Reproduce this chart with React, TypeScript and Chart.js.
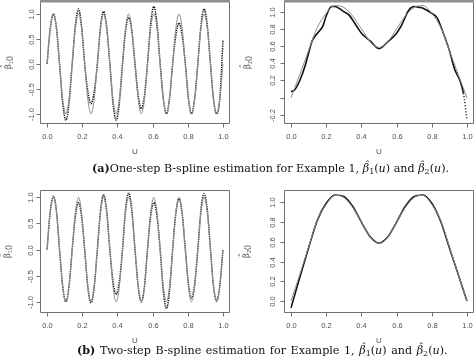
import React, { useEffect, useRef } from "react";
import { Chart, registerables } from "chart.js";

Chart.register(...registerables);

// ---------- data ----------
const U_B1 = [0, 0.018, 0.036, 0.054, 0.071, 0.089, 0.107, 0.125, 0.143, 0.161, 0.179, 0.196, 0.214, 0.232, 0.25, 0.268, 0.286, 0.304, 0.321, 0.339, 0.357, 0.375, 0.393, 0.411, 0.429, 0.446, 0.464, 0.482, 0.5, 0.518, 0.536, 0.554, 0.571, 0.589, 0.607, 0.625, 0.643, 0.661, 0.679, 0.696, 0.714, 0.732, 0.75, 0.768, 0.786, 0.804, 0.821, 0.839, 0.857, 0.875, 0.893, 0.911, 0.929, 0.946, 0.964, 0.982, 1];

const TRUE_B1 = [
  0, 0.71, 1, 0.71, 0, -0.71, -1, -0.71,
  0, 0.71, 1, 0.71, 0, -0.71, -1, -0.71,
  0, 0.71, 1, 0.71, 0, -0.71, -1, -0.71,
  0, 0.71, 1, 0.71, 0, -0.71, -1, -0.71,
  0, 0.71, 1, 0.71, 0, -0.71, -1, -0.71,
  0, 0.71, 1, 0.71, 0, -0.71, -1, -0.71,
  0, 0.71, 1, 0.71, 0, -0.71, -1, -0.71,
  0,
];

const EST_B1_ONE = [
  0, 0.7, 1.0, 0.7, 0, -0.79, -1.13, -0.79,
  0, 0.77, 1.1, 0.77, 0, -0.56, -0.8, -0.56,
  0, 0.74, 1.05, 0.74, 0, -0.79, -1.13, -0.79,
  0, 0.65, 0.93, 0.65, 0, -0.63, -0.9, -0.63,
  0, 0.8, 1.15, 0.8, 0, -0.7, -1.0, -0.7,
  0, 0.57, 0.82, 0.57, 0, -0.7, -1.0, -0.7,
  0, 0.77, 1.1, 0.77, 0, -0.7, -1.0, -0.7,
  0.48,
];

const EST_B1_TWO = [
  0, 0.72, 1.02, 0.72, 0, -0.7, -1.0, -0.7,
  0, 0.64, 0.9, 0.64, 0, -0.72, -1.02, -0.72,
  0, 0.74, 1.05, 0.74, 0, -0.61, -0.86, -0.61,
  0, 0.76, 1.08, 0.76, 0, -0.7, -1.0, -0.7,
  0, 0.64, 0.9, 0.64, 0, -0.8, -1.13, -0.8,
  0, 0.69, 0.97, 0.69, 0, -0.66, -0.93, -0.66,
  0, 0.76, 1.07, 0.76, 0, -0.69, -0.98, -0.69,
  0,
];

const U_B2 = [0, 0.05, 0.1, 0.15, 0.2, 0.25, 0.3, 0.35, 0.4, 0.45, 0.5, 0.55, 0.6, 0.65, 0.7, 0.75, 0.8, 0.85, 0.9, 0.95, 1];
const TRUE_B2 = [0, 0.27, 0.55, 0.82, 0.98, 1.07, 1.05, 0.95, 0.8, 0.65, 0.585, 0.65, 0.8, 0.95, 1.05, 1.07, 0.98, 0.82, 0.55, 0.27, 0];
const EST_B2_TWO = [-0.07, 0.24, 0.54, 0.82, 0.99, 1.075, 1.06, 0.96, 0.8, 0.65, 0.585, 0.65, 0.8, 0.96, 1.06, 1.075, 0.99, 0.81, 0.54, 0.27, 0.0];

const U_B2_ONE = [0, 0.02, 0.05, 0.08, 0.1, 0.12, 0.15, 0.18, 0.2, 0.23, 0.25, 0.28, 0.3, 0.33, 0.37, 0.4, 0.45, 0.5, 0.55, 0.6, 0.63, 0.67, 0.7, 0.73, 0.75, 0.8, 0.83, 0.86, 0.9, 0.93, 0.96, 0.98, 1.0];
const EST_B2_ONE = [0.07, 0.09, 0.2, 0.37, 0.52, 0.66, 0.75, 0.83, 0.95, 1.06, 1.06, 1.03, 1.0, 0.96, 0.84, 0.75, 0.66, 0.57, 0.65, 0.75, 0.85, 1.02, 1.06, 1.05, 1.04, 0.98, 0.93, 0.78, 0.55, 0.33, 0.2, 0.05, -0.26];

const X_TICKS = [0, 0.2, 0.4, 0.6, 0.8, 1];
const X_TICK_LABELS = ["0.0", "0.2", "0.4", "0.6", "0.8", "1.0"];
const Y_TICKS_B1 = [-1, -0.5, 0, 0.5, 1];
const Y_TICK_LABELS_B1 = ["-1.0", "-0.5", "0.0", "0.5", "1.0"];
const Y_TICKS_B2_ONE = [-0.2, 0, 0.2, 0.4, 0.6, 0.8, 1];
const Y_TICK_LABELS_B2_ONE = ["-0.2", "", "0.2", "0.4", "0.6", "0.8", "1.0"];
const Y_TICKS_B2_TWO = [0, 0.2, 0.4, 0.6, 0.8, 1];
const Y_TICK_LABELS_B2_TWO = ["0.0", "0.2", "0.4", "0.6", "0.8", "1.0"];

const X_TITLE = "U";
const CAPTION_A_LABEL = "(a)";
const CAPTION_A_REST = "One-step B-spline estimation for Example 1, ";
const CAPTION_B_LABEL = "(b)";
const CAPTION_B_REST = " Two-step B-spline estimation for Example 1, ";

// ---------- helpers ----------
const W = 474;
const H = 364;

const pts = (xs: number[], ys: number[]) => xs.map((x, i) => ({ x, y: ys[i] }));

const rAxes = {
  id: "rAxes",
  afterDraw(chart: any, _args: any, o: any) {
    const { ctx, chartArea: a, scales } = chart;
    const xs = scales.x;
    const ys = scales.y;
    ctx.save();
    ctx.strokeStyle = "#707070";
    ctx.lineWidth = 1;
    const L = Math.round(a.left) + 0.5;
    const T = Math.round(a.top) + 0.5;
    const R = Math.round(a.right) - 0.5;
    const B = Math.round(a.bottom) - 0.5;
    ctx.beginPath();
    ctx.rect(L, T, R - L, B - T);
    ctx.stroke();
    if (o.thickTop) {
      ctx.fillStyle = "#8f8f8f";
      ctx.fillRect(L - 0.5, 0, R - L + 1, 2.5);
    }
    ctx.fillStyle = "#505050";
    ctx.strokeStyle = "#707070";
    ctx.font = '7.5px "Liberation Sans", Arial, sans-serif';
    ctx.textAlign = "center";
    ctx.textBaseline = "middle";
    o.xTicks.forEach((v: number, i: number) => {
      const px = Math.round(xs.getPixelForValue(v)) + 0.5;
      ctx.beginPath();
      ctx.moveTo(px, B);
      ctx.lineTo(px, B + 4);
      ctx.stroke();
      ctx.fillText(o.xLabels[i], px, B + 13);
    });
    o.yTicks.forEach((v: number, i: number) => {
      const py = Math.round(ys.getPixelForValue(v)) + 0.5;
      ctx.beginPath();
      ctx.moveTo(L - 4, py);
      ctx.lineTo(L, py);
      ctx.stroke();
      const lab = o.yLabels[i];
      if (lab) {
        ctx.save();
        ctx.translate(L - o.yLabelGap, py);
        ctx.rotate(-Math.PI / 2);
        ctx.fillText(lab, 0, 0);
        ctx.restore();
      }
    });
    ctx.font = '8px "Liberation Sans", Arial, sans-serif';
    ctx.fillText(o.xTitle, (L + R) / 2, B + 28);
    // y title (rotated): beta-hat, subscript, "()"
    ctx.save();
    ctx.translate(L - o.yTitleGap, (T + B) / 2);
    ctx.rotate(-Math.PI / 2);
    ctx.textAlign = "left";
    const f1 = '8.5px "DejaVu Serif", serif';
    const f2 = '5.5px "Liberation Sans", Arial, sans-serif';
    const f3 = '7.5px "Liberation Sans", Arial, sans-serif';
    ctx.font = f1;
    const w1 = ctx.measureText("\u03B2").width;
    ctx.font = f2;
    const w2 = ctx.measureText(o.ySub).width;
    ctx.font = f3;
    const w3 = ctx.measureText("()").width;
    let x0 = -(w1 + w2 + w3) / 2;
    ctx.font = f1;
    ctx.fillText("\u03B2", x0, 0.5);
    ctx.font = '6px "Liberation Sans", Arial, sans-serif';
    ctx.textAlign = "center";
    ctx.fillText("^", x0 + w1 / 2 + 0.5, -6);
    ctx.textAlign = "left";
    x0 += w1;
    ctx.font = f2;
    ctx.fillText(o.ySub, x0, 2.5);
    x0 += w2;
    ctx.font = f3;
    ctx.fillText("()", x0, 0.5);
    ctx.restore();
    ctx.restore();
  },
};

type PanelProps = {
  area: { left: number; top: number; right: number; bottom: number };
  yMin: number;
  yMax: number;
  datasets: any[];
  axes: any;
};

function Panel({ area, yMin, yMax, datasets, axes }: PanelProps) {
  const ref = useRef<HTMLCanvasElement | null>(null);
  useEffect(() => {
    if (!ref.current) return;
    const chart = new Chart(ref.current, {
      type: "line",
      data: { datasets },
      options: {
        responsive: false,
        animation: false,
        events: [],
        layout: {
          padding: {
            left: area.left,
            top: area.top,
            right: W - area.right,
            bottom: H - area.bottom,
          },
        },
        scales: {
          x: { type: "linear", min: -0.04, max: 1.04, display: false },
          y: { type: "linear", min: yMin, max: yMax, display: false },
        },
        plugins: {
          legend: { display: false },
          tooltip: { enabled: false },
          rAxes: axes,
        } as any,
        elements: { point: { radius: 0 } },
      },
      plugins: [rAxes],
    });
    return () => chart.destroy();
  }, []);
  return (
    <canvas
      ref={ref}
      width={W}
      height={H}
      style={{ position: "absolute", left: 0, top: 0, width: W, height: H }}
    />
  );
}

const trueStyle = {
  borderColor: "#8c8c8c",
  borderWidth: 1,
  cubicInterpolationMode: "monotone",
  pointRadius: 0,
  fill: false,
};
const dotStyle = {
  borderColor: "#151515",
  borderWidth: 1.5,
  borderDash: [1.3, 1],
  cubicInterpolationMode: "monotone",
  pointRadius: 0,
  fill: false,
};

function BetaHat({ sub }: { sub: string }) {
  return (
    <>
      <span style={{ position: "relative", display: "inline-block" }}>
        <i>β</i>
        <span style={{ position: "absolute", left: "0.22em", top: "-0.38em", fontSize: "0.9em" }}>ˆ</span>
      </span>
      <sub style={{ fontSize: 8, verticalAlign: "-2px" }}>{sub}</sub>
    </>
  );
}

function Caption({ label, rest, left, top, wordSpacing }: { label: string; rest: string; left: number; top: number; wordSpacing: number }) {
  return (
    <div
      style={{
        position: "absolute",
        left,
        top,
        whiteSpace: "nowrap",
        fontFamily: '"DejaVu Serif", "Liberation Serif", serif',
        fontSize: 11.15,
        color: "#111",
        lineHeight: "14px",
        wordSpacing,
      }}
    >
      <b>{label}</b>
      {rest}
      <BetaHat sub="1" />(<i>u</i>) and <BetaHat sub="2" />(<i>u</i>).
    </div>
  );
}

export default function App() {
  const lastIdx = U_B2_ONE.length - 1;
  return (
    <div style={{ position: "fixed", left: 0, top: 0, width: W, height: H, background: "#fff", overflow: "hidden" }}>
      <Panel
        area={{ left: 40, top: 1, right: 230, bottom: 124 }}
        yMin={-1.207}
        yMax={1.261}
        datasets={[
          { ...trueStyle, data: pts(U_B1, TRUE_B1) },
          { ...dotStyle, data: pts(U_B1, EST_B1_ONE) },
        ]}
        axes={{ thickTop: true, xTicks: X_TICKS, xLabels: X_TICK_LABELS, yTicks: Y_TICKS_B1, yLabels: Y_TICK_LABELS_B1, yLabelGap: 9, yTitleGap: 32, ySub: "1", xTitle: X_TITLE }}
      />
      <Panel
        area={{ left: 284, top: 1, right: 474, bottom: 124 }}
        yMin={-0.306}
        yMax={1.124}
        datasets={[
          { ...trueStyle, data: pts(U_B2, TRUE_B2) },
          {
            ...trueStyle,
            borderColor: "#111",
            borderWidth: 1.6,
            data: pts(U_B2_ONE, EST_B2_ONE),
            segment: { borderDash: (c: any) => (c.p1DataIndex === lastIdx ? [1, 2] : undefined) },
          },
        ]}
        axes={{ thickTop: true, xTicks: X_TICKS, xLabels: X_TICK_LABELS, yTicks: Y_TICKS_B2_ONE, yLabels: Y_TICK_LABELS_B2_ONE, yLabelGap: 12, yTitleGap: 37, ySub: "2", xTitle: X_TITLE }}
      />
      <Panel
        area={{ left: 40, top: 190, right: 230, bottom: 313 }}
        yMin={-1.215}
        yMax={1.14}
        datasets={[
          { ...trueStyle, data: pts(U_B1, TRUE_B1) },
          { ...dotStyle, data: pts(U_B1, EST_B1_TWO) },
        ]}
        axes={{ thickTop: false, xTicks: X_TICKS, xLabels: X_TICK_LABELS, yTicks: Y_TICKS_B1, yLabels: Y_TICK_LABELS_B1, yLabelGap: 9.5, yTitleGap: 33, ySub: "1", xTitle: X_TITLE }}
      />
      <Panel
        area={{ left: 284, top: 190, right: 474, bottom: 313 }}
        yMin={-0.122}
        yMax={1.125}
        datasets={[
          { ...trueStyle, data: pts(U_B2, TRUE_B2) },
          { ...trueStyle, borderColor: "#111", borderWidth: 1.6, data: pts(U_B2, EST_B2_TWO) },
        ]}
        axes={{ thickTop: false, xTicks: X_TICKS, xLabels: X_TICK_LABELS, yTicks: Y_TICKS_B2_TWO, yLabels: Y_TICK_LABELS_B2_TWO, yLabelGap: 12, yTitleGap: 38, ySub: "2", xTitle: X_TITLE }}
      />
      <Caption label={CAPTION_A_LABEL} rest={CAPTION_A_REST} left={92} top={162} wordSpacing={0} />
      <Caption label={CAPTION_B_LABEL} rest={CAPTION_B_REST} left={77} top={344} wordSpacing={1} />
    </div>
  );
}
